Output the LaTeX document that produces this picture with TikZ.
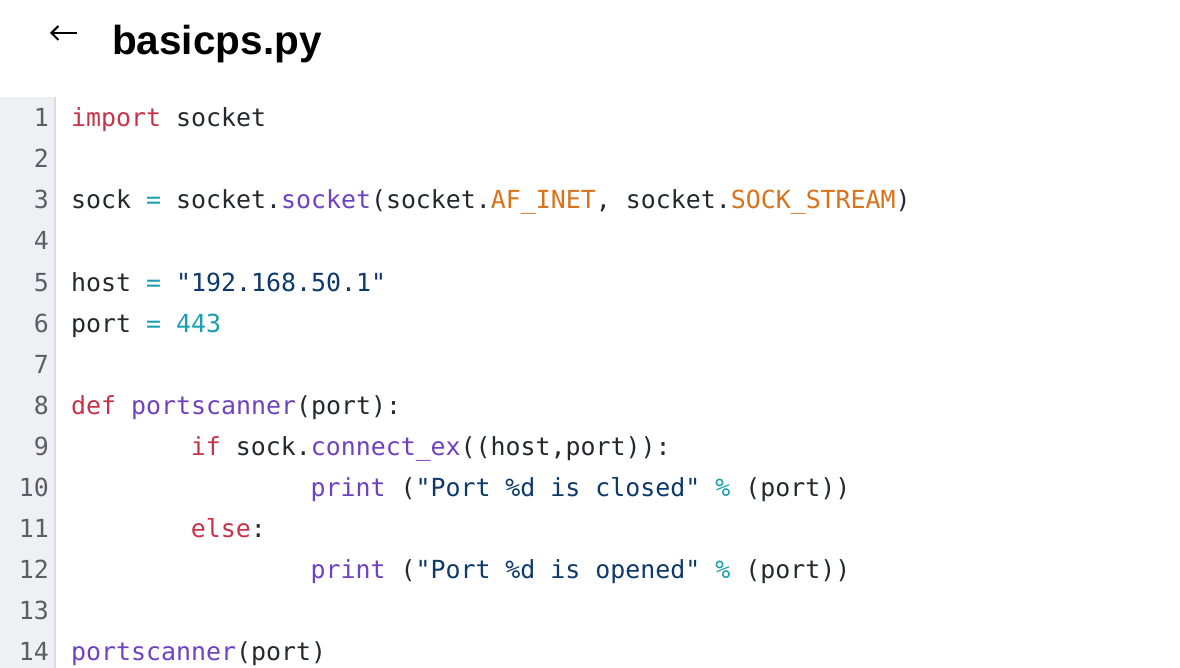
\documentclass[tikz,border=0pt]{standalone}
\usepackage{fontspec}
\usetikzlibrary{arrows.meta}
\setmainfont{Liberation Sans}
\newfontfamily\code{DejaVu Sans Mono}
\definecolor{kw}{HTML}{C8334A}
\definecolor{fn}{HTML}{6F42C1}
\definecolor{cn}{HTML}{D9731B}
\definecolor{op}{HTML}{1A9FB0}
\definecolor{st}{HTML}{0D3A6B}
\definecolor{tx}{HTML}{24292E}
\definecolor{ln}{HTML}{5A5F66}
\definecolor{gut}{HTML}{EEF0F4}
\definecolor{gutl}{HTML}{D8DCE3}
\newcommand{\cK}[1]{\textcolor{kw}{#1}}
\newcommand{\cF}[1]{\textcolor{fn}{#1}}
\newcommand{\cC}[1]{\textcolor{cn}{#1}}
\newcommand{\cO}[1]{\textcolor{op}{#1}}
\newcommand{\cS}[1]{\textcolor{st}{#1}}
\begin{document}
\begin{tikzpicture}[x=1pt,y=-1pt,
  codeline/.style={anchor=base west,inner sep=0pt,font=\code\fontsize{24.9}{26}\selectfont,text=tx},
  lnum/.style={anchor=base east,inner sep=0pt,font=\code\fontsize{24.9}{26}\selectfont,text=ln}]
\useasboundingbox[fill=white] (0,0) rectangle (1180,668);
\fill[gut] (0,97) rectangle (55,668);
\draw[gutl,line width=1.5pt] (55,97) -- (55,668);
\draw[line width=2pt,-{Straight Barb[length=7pt,width=14pt]}] (77,33) -- (50,33);
\node[anchor=base west,inner sep=0pt,font=\bfseries\fontsize{40.5}{44}\selectfont] (title) at (112,55) {basicps.py};
\foreach \n in {1,...,14}{\node[lnum] (n\n) at (49,{127+41*(\n-1)}) {\n};}
\node[codeline] (l1) at (71,127) {\cK{import} socket};
\node[codeline] (l3) at (71,209) {sock \cO{=} socket.\cF{socket}(socket.\cC{AF\_INET}, socket.\cC{SOCK\_STREAM})};
\node[codeline] (l5) at (71,291) {host \cO{=} \cS{"192.168.50.1"}};
\node[codeline] (l6) at (71,332) {port \cO{=} \cO{443}};
\node[codeline] (l8) at (71,414) {\cK{def} \cF{portscanner}(port):};
\node[codeline] (l9) at (190.7,455) {\cK{if} sock.\cF{connect\_ex}((host,port)):};
\node[codeline] (l10) at (310.4,496) {\cF{print} (\cS{"Port \%d is closed"} \cO{\%} (port))};
\node[codeline] (l11) at (190.7,537) {\cK{else}:};
\node[codeline] (l12) at (310.4,578) {\cF{print} (\cS{"Port \%d is opened"} \cO{\%} (port))};
\node[codeline] (l14) at (71,660) {\cF{portscanner}(port)};
\end{tikzpicture}
\end{document}
